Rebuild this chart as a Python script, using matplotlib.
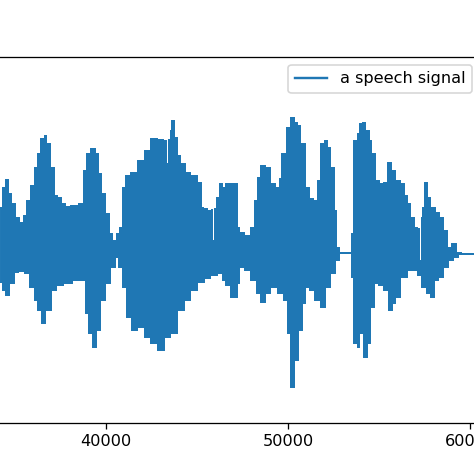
import matplotlib
matplotlib.use('Agg')
import matplotlib.pyplot as plt
from matplotlib.ticker import MultipleLocator
import numpy as np

# keep every step of the outline (no path simplification)
plt.rcParams['path.simplify'] = False

# Upper envelope of the speech signal (sample index, amplitude)
t_up = [34176, 34341, 34506, 34725, 34890, 35110, 35275, 35549, 35714, 35934,
        36099, 36264, 36484, 36648, 36813, 37033, 37198, 37363, 37637, 37857,
        38187, 38681, 38791, 38956, 39231, 39505, 39615, 39835, 40055, 40220,
        40385, 40659, 40769, 40934, 41154, 41484, 41868, 42253, 42582, 42967,
        43242, 43352, 43462, 43516, 43681, 43791, 43956, 44176, 44451,
        44780, 45165, 45280, 45350, 45420, 45714, 45810, 45879, 45950, 46099,
        46264, 46429, 46648, 46923, 47088, 47253, 47363, 47747,
        48022, 48187, 48352, 48571, 48846, 49121, 49396, 49560, 49725, 50000,
        50220, 50385, 50549, 50769, 51044, 51209, 51484, 51648, 51868, 52033,
        52198, 52418, 52582, 52692, 52857, 53407, 53516, 53681, 53846, 53956,
        54121, 54341, 54505, 54670, 54890, 55055, 55330, 55549, 55769, 55989,
        56264, 56429, 56593, 56813, 56978, 57180, 57253, 57320, 57363,
        57527, 57692, 57912, 58187, 58352, 58626, 58791, 59066, 59341, 59615,
        60300]
a_up = [4500, 6500, 7300, 5900, 4900, 3500, 3000, 3700, 5200, 6700,
        8500, 9900, 11400, 11700, 10900, 8500, 5700, 5500, 4900, 4600,
        4700, 4900, 8200, 9900, 10400, 9900, 7900, 5900, 3900, 1900,
        1200, 1900, 2500, 6500, 7700, 8000, 9200, 10200, 11400, 11300,
        11200, 8900, 11300, 12200, 13200, 11500, 9700, 8900, 8000,
        7700, 7000, 4500, 1200, 4400, 4200, 4300, 1200, 4400, 5500,
        6900, 6500, 6900, 6900, 6900, 2500, 2000, 1700,
        2500, 5200, 7500, 8700, 8500, 6900, 6500, 7400, 9900, 12500,
        13500, 13000, 12700, 10900, 6500, 5400, 5200, 7200, 10900, 11200,
        10500, 8500, 4200, 500, 0, 0, 1900, 11200, 11900, 12900,
        13000, 12200, 11200, 9900, 7200, 6900, 7000, 9000, 8200, 7200,
        6900, 5700, 4900, 3500, 2500, 2400, -800, 3500, 4500,
        7000, 5500, 4500, 4000, 3500, 2200, 500, 900, 0, -100,
        -100]

# Lower envelope of the speech signal (sample index, amplitude)
t_lo = [34176, 34341, 34560, 34835, 35000, 35275, 35659, 35934, 36099, 36264,
        36538, 36813, 37088, 37363, 37857, 38407, 38736, 38901, 39121, 39286,
        39560, 39835, 40055, 40330, 40604, 40769, 40934, 41209, 41484, 41868,
        42253, 42582, 42967, 43352, 43681, 44066, 44451, 44780, 45165, 45549,
        45879, 46264, 46429, 46648, 46923, 47088, 47253, 47363, 47747, 48077,
        48352, 48571, 48846, 49176, 49560, 49835, 50000, 50220, 50385, 50659,
        50824, 51044, 51209, 51593, 51868, 52143, 52418, 52692, 52857, 53407,
        53516, 53681, 53846, 53956, 54231, 54396, 54615, 54780, 55055, 55330,
        55604, 55769, 55989, 56319, 56703, 56978, 57143, 57418, 57692, 57912,
        58077, 58352, 58626, 58901, 59176, 59451, 60300]
a_lo = [-3000, -3800, -4300, -3100, -2000, -1900, -2100, -3500, -4800, -5800,
        -7100, -5800, -3800, -3300, -3100, -2800, -2800, -6100, -8100, -9500,
        -7800, -4800, -3100, -1500, -500, -1500, -3500, -6500, -7800, -7500,
        -8500, -9100, -9800, -8500, -8100, -5800, -4800, -3800, -3000, -2600,
        -2300, -2100, -2800, -3300, -4500, -4500, -3100, -1500, -1800, -2800,
        -4100, -5000, -4100, -3500, -4100, -4800, -8100, -13500, -10800, -7800,
        -5100, -3500, -3800, -4800, -5500, -3500, -2100, -800, -100, -100,
        -2500, -9100, -9500, -8100, -10500, -9100, -5500, -3100, -3300, -3800,
        -5800, -5100, -4500, -2500, -1800, -1800, -2300, -3500, -4100, -4500,
        -2800, -2500, -1500, -800, -500, -200, -200]

color = '#1f77b4'


def steps_mid(t, a):
    # vertices of a 'steps-mid' outline, same as drawstyle='steps-mid'
    t = np.asarray(t, float)
    a = np.asarray(a, float)
    mid = (t[:-1] + t[1:]) / 2
    xs = np.r_[t[0], np.repeat(mid, 2), t[-1]]
    ys = np.repeat(a, 2)
    return xs, ys


dpi = 116
fig = plt.figure(figsize=(474 / dpi, 474 / dpi), dpi=dpi)
# axes larger than the canvas, so only a cut-out of the plot is visible
ax = fig.add_axes([-150 / 474, 51 / 474, 630 / 474, 366 / 474])

xu, yu = steps_mid(t_up, a_up)
xl, yl = steps_mid(t_lo, a_lo)
ax.fill(np.r_[xu, xl[::-1]], np.r_[yu, yl[::-1]], color=color, lw=0.6)
ax.plot(t_up, a_up, color=color, lw=0.6, drawstyle='steps-mid',
        label='a speech signal')
ax.plot(t_lo, a_lo, color=color, lw=0.6, drawstyle='steps-mid')

ax.set_xlim(25934, 60549)
ax.set_ylim(-17100, 19500)
ax.xaxis.set_major_locator(MultipleLocator(10000))
leg = ax.legend(loc='upper right')
leg.get_lines()[0].set_linewidth(1.5)

fig.savefig('out.png', dpi=dpi)
